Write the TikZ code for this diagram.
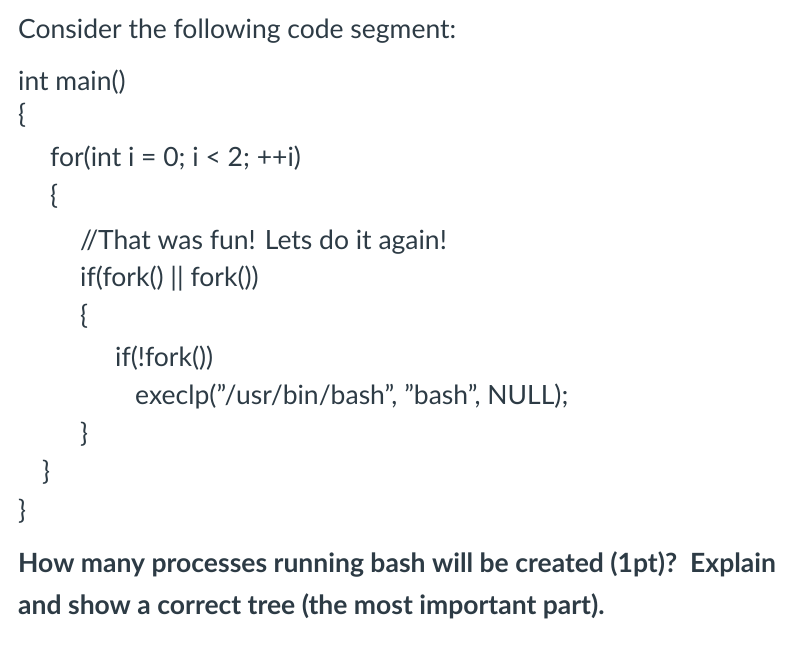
\documentclass[tikz,border=0pt]{standalone}
\usepackage{fontspec}
\setmainfont{Lato}
\definecolor{txt}{HTML}{2D3B45}
\newcommand{\dq}{\char"22\relax}
\begin{document}
\begin{tikzpicture}[x=1pt,y=1pt,t/.style={anchor=base west,inner sep=0pt,text=txt,font=\fontsize{26.5}{30}\selectfont}]
\useasboundingbox (0,0) rectangle (796,-669);
\node[t] (l1) at (18,-39) {Consider the following code segment:};
\node[t] (l2) at (18,-91) {int main()};
\node[t] (l3) at (18,-124) {\{};
\node[t] (l4) at (50,-166) {for(int i = 0; i < 2; ++i)};
\node[t] (l5) at (50,-204) {\{};
\node[t] (l6) at (80,-249) {//That was fun! Lets do it again!};
\node[t] (l7) at (80,-286) {if(fork() || fork())};
\node[t] (l8) at (80,-324) {\{};
\node[t] (l9) at (115,-366) {if(!fork())};
\node[t] (l10) at (135,-404) {execlp(\dq/usr/bin/bash\dq, \dq bash\dq, NULL);};
\node[t] (l11) at (80,-442) {\}};
\node[t] (l12) at (42,-480) {\}};
\node[t] (l13) at (18,-519) {\}};
\node[t,font=\fontsize{26.5}{30}\selectfont\bfseries] (q1) at (18,-572) {How many processes running bash will be created (1pt)?\ \ Explain};
\node[t,font=\fontsize{26.5}{30}\selectfont\bfseries] (q2) at (18,-614) {and show a correct tree (the most important part).};
\end{tikzpicture}
\end{document}
